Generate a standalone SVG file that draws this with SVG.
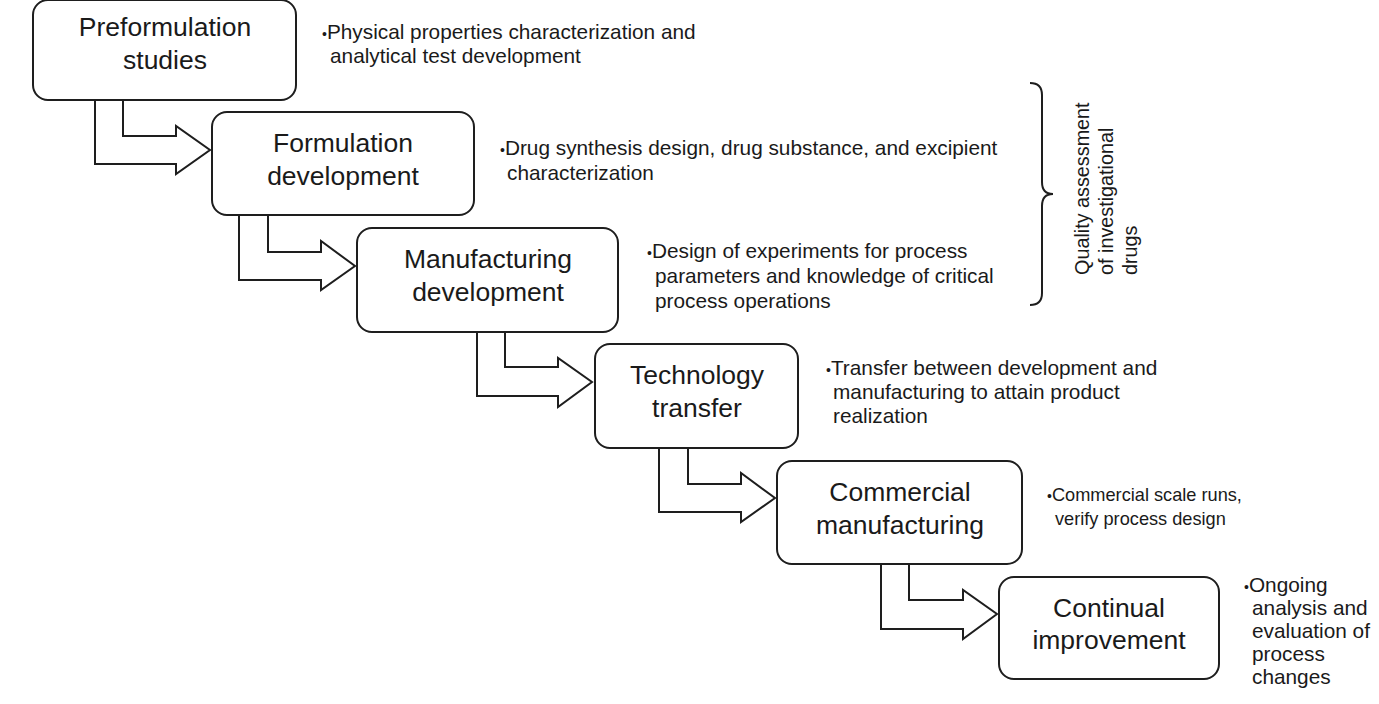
<svg xmlns="http://www.w3.org/2000/svg" width="1379" height="704" viewBox="0 0 1379 704">
<style>
.box{fill:#fff;stroke:#1e1e1e;stroke-width:2}
.arr{fill:#fff;stroke:#1e1e1e;stroke-width:2;stroke-linejoin:miter}
.t{font-family:"Liberation Sans",Arial,sans-serif;font-size:26.5px;fill:#1a1a1a;text-anchor:middle}
.d{font-family:"Liberation Sans",Arial,sans-serif;font-size:20.8px;fill:#1a1a1a}
.s{font-size:18.2px}
.r{font-size:19.8px}
.b{font-size:14px}
.brace{fill:none;stroke:#1e1e1e;stroke-width:2}
</style>
<rect width="1379" height="704" fill="#fff"/>
<g id="connectors">
<path class="arr" d="M95,100 V164 H176 V174 L210,150 L176,126 V136 H123 V100"/>
<path class="arr" d="M239,215 V280 H321 V290 L355,266 L321,241 V252 H268 V215"/>
<path class="arr" d="M477,332 V396 H558 V407 L592,382 L558,358 V367 H505 V332"/>
<path class="arr" d="M659,448 V512 H741 V522 L775,498 L741,473 V484 H688 V448"/>
<path class="arr" d="M881,564 V629 H963 V639 L997,614 L963,590 V600 H909 V564"/>
</g>
<g id="node-preformulation">
<rect class="box" x="33" y="0" width="263" height="100" rx="15"/>
<text class="t" x="165" y="36">Preformulation</text>
<text class="t" x="165" y="69">studies</text>
</g>
<g id="node-formulation">
<rect class="box" x="212" y="112" width="262" height="103" rx="15"/>
<text class="t" x="343" y="152">Formulation</text>
<text class="t" x="343" y="185">development</text>
</g>
<g id="node-manufacturing-dev">
<rect class="box" x="357" y="228" width="261" height="104" rx="15"/>
<text class="t" x="488" y="268">Manufacturing</text>
<text class="t" x="488" y="301">development</text>
</g>
<g id="node-tech-transfer">
<rect class="box" x="595" y="344" width="203" height="104" rx="15"/>
<text class="t" x="697" y="384">Technology</text>
<text class="t" x="697" y="417">transfer</text>
</g>
<g id="node-commercial">
<rect class="box" x="777" y="461" width="245" height="103" rx="15"/>
<text class="t" x="900" y="501">Commercial</text>
<text class="t" x="900" y="534">manufacturing</text>
</g>
<g id="node-continual">
<rect class="box" x="999" y="577" width="220" height="102" rx="15"/>
<text class="t" x="1109" y="617">Continual</text>
<text class="t" x="1109" y="649">improvement</text>
</g>
<g id="desc-1">
<text class="d" x="322" y="39"><tspan class="b">•</tspan>Physical properties characterization and</text>
<text class="d" x="330" y="63">analytical test development</text>
</g>
<g id="desc-2">
<text class="d" x="500" y="155"><tspan class="b">•</tspan>Drug synthesis design, drug substance, and excipient</text>
<text class="d" x="507" y="180">characterization</text>
</g>
<g id="desc-3">
<text class="d" x="647" y="258"><tspan class="b">•</tspan>Design of experiments for process</text>
<text class="d" x="655" y="283">parameters and knowledge of critical</text>
<text class="d" x="655" y="308">process operations</text>
</g>
<g id="desc-4">
<text class="d" x="826" y="375"><tspan class="b">•</tspan>Transfer between development and</text>
<text class="d" x="833" y="399">manufacturing to attain product</text>
<text class="d" x="833" y="423">realization</text>
</g>
<g id="desc-5">
<text class="d s" x="1047" y="501"><tspan class="b">•</tspan>Commercial scale runs,</text>
<text class="d s" x="1055" y="525">verify process design</text>
</g>
<g id="desc-6">
<text class="d" x="1244" y="592"><tspan class="b">•</tspan>Ongoing</text>
<text class="d" x="1252" y="615">analysis and</text>
<text class="d" x="1252" y="638">evaluation of</text>
<text class="d" x="1252" y="661">process</text>
<text class="d" x="1252" y="684">changes</text>
</g>
<g id="brace-quality">
<path class="brace" d="M1030,83 Q1042,83 1042,95 L1042,182 Q1042,194 1053,194 Q1042,194 1042,206 L1042,293 Q1042,305 1030,305"/>
<g transform="translate(1089,275) rotate(-90)">
<text class="d r" x="0" y="0">Quality assessment</text>
<text class="d r" x="0" y="24">of investigational</text>
<text class="d r" x="0" y="48">drugs</text>
</g>
</g>
</svg>
